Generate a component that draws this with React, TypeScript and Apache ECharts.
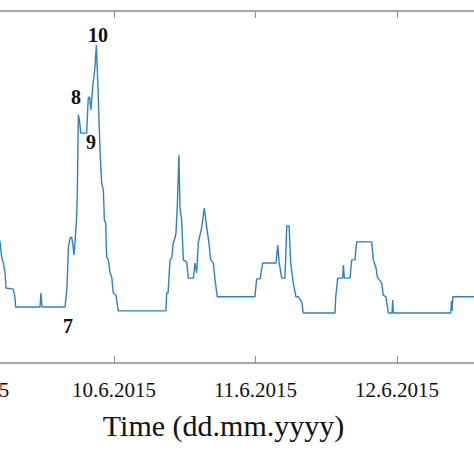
import React, { useEffect, useRef } from "react";
import * as echarts from "echarts";

// time in days since 9.6.2015 00:00
const times = [
  0.159, 0.194, 0.206, 0.218, 0.23, 0.237, 0.288, 0.3, 0.305, 0.477, 0.484, 0.491,
  0.654, 0.668, 0.678, 0.689, 0.7, 0.71, 0.717, 0.724, 0.736, 0.741, 0.748, 0.756,
  0.765, 0.807, 0.818, 0.827, 0.837, 0.849, 0.855, 0.866, 0.875, 0.885, 0.901, 0.913,
  0.925, 0.932, 0.941, 0.948, 0.96, 0.972, 0.984, 0.995, 1.014, 1.03, 1.367, 1.372,
  1.382, 1.396, 1.408, 1.419, 1.431, 1.438, 1.447, 1.459, 1.466, 1.478, 1.49, 1.514,
  1.525, 1.561, 1.572, 1.584, 1.596, 1.62, 1.638, 1.655, 1.671, 1.683, 1.702, 1.714,
  1.73, 1.996, 2.008, 2.032, 2.051, 2.145, 2.157, 2.168, 2.185, 2.208, 2.221, 2.237,
  2.249, 2.267, 2.286, 2.303, 2.327, 2.338, 2.562, 2.567, 2.581, 2.616, 2.621, 2.628,
  2.668, 2.68, 2.703, 2.715, 2.821, 2.833, 2.852, 2.861, 2.892, 2.903, 2.922, 2.939,
  2.965, 2.97, 2.974, 3.38, 3.385, 3.389, 3.395, 3.6,
];
const values = [
  39.2, 34.4, 30.1, 28.4, 25.6, 21.3, 21.0, 18.8, 15.9, 15.9, 19.9, 15.9,
  15.9, 21.6, 33.0, 35.5, 35.8, 33.5, 30.7, 34.1, 41.5, 49.1, 70.5, 69.0,
  65.3, 65.3, 75.3, 75.6, 71.9, 78.1, 80.4, 84.1, 90.3, 80.4, 60.5, 51.1,
  49.1, 40.6, 39.8, 30.1, 29.3, 25.6, 24.4, 19.9, 19.3, 14.8, 14.8, 19.9,
  19.9, 29.3, 29.8, 34.1, 35.5, 36.9, 44.3, 59.1, 44.3, 40.6, 29.3, 28.7,
  24.1, 24.1, 28.4, 25.6, 34.1, 38.6, 44.0, 38.6, 34.1, 29.3, 28.4, 23.6,
  18.8, 18.8, 23.9, 23.9, 28.4, 28.4, 33.5, 28.4, 24.1, 24.1, 38.9, 38.9,
  28.4, 22.7, 18.8, 18.8, 17.3, 14.2, 14.2, 18.8, 24.1, 24.1, 27.8, 24.1,
  24.1, 29.3, 29.3, 34.4, 34.4, 29.3, 27.0, 24.4, 22.7, 19.3, 18.8, 14.2,
  14.2, 17.9, 14.2, 14.2, 17.6, 14.8, 18.8, 18.8,
];
const tickLabels = ["9.6.2015", "10.6.2015", "11.6.2015", "12.6.2015"];
const eventLabels = ["10", "8", "9", "7"];
const xTitle = "Time (dd.mm.yyyy)";

const OFFSET = 60; // chart canvas extends beyond the visible crop on the left
const EXTRA_RIGHT = 20;

export default function App() {
  const ref = useRef<HTMLDivElement>(null);
  useEffect(() => {
    if (!ref.current) return;
    const chart = echarts.init(ref.current, null, { renderer: "svg" });
    const data = times.map((t, i) => [t, values[i]]);
    const axisColor = "#8a8a8a";
    const font = "'Liberation Serif', 'Times New Roman', serif";
    const eventPos = [
      [98, 35],
      [76, 97],
      [91, 142],
      [68, 326],
    ];
    chart.setOption({
      animation: false,
      grid: {
        left: OFFSET - 27.5,
        right: EXTRA_RIGHT - 7.9,
        top: 11,
        bottom: 111,
        containLabel: false,
        outerBoundsMode: "none",
      },
      xAxis: [
        {
          type: "value",
          position: "bottom",
          min: 0,
          max: 3.6,
          interval: 1,
          axisLine: { show: true, lineStyle: { color: axisColor, width: 1.5 } },
          axisTick: { show: true, inside: true, length: 7, lineStyle: { color: axisColor, width: 1 } },
          axisLabel: {
            margin: 16,
            color: "#111",
            fontFamily: font,
            fontSize: 21,
            showMaxLabel: false,
            formatter: (v: number) => tickLabels[Math.round(v)] ?? "",
          },
          splitLine: { show: false },
        },
        {
          type: "value",
          position: "top",
          min: 0,
          max: 3.6,
          interval: 1,
          axisLine: { show: true, lineStyle: { color: axisColor, width: 1.5 } },
          axisTick: { show: true, inside: true, length: 7, lineStyle: { color: axisColor, width: 1 } },
          axisLabel: { show: false },
          splitLine: { show: false },
        },
      ],
      yAxis: {
        type: "value",
        min: 0,
        max: 100,
        axisLine: { show: false },
        axisTick: { show: false },
        axisLabel: { show: false },
        splitLine: { show: false },
      },
      series: [
        {
          type: "line",
          data,
          showSymbol: false,
          symbol: "none",
          lineStyle: { color: "#2f80c2", width: 1.4 },
          clip: true,
        },
      ],
      graphic: [
        ...eventLabels.map((t, i) => ({
          type: "text",
          x: eventPos[i][0] + OFFSET,
          y: eventPos[i][1],
          style: {
            text: t,
            fontFamily: font,
            fontSize: 20,
            fontWeight: "bold",
            fill: "#111",
            align: "center",
            verticalAlign: "middle",
          },
        })),
        {
          type: "text",
          x: 223.5 + OFFSET,
          y: 425,
          style: {
            text: xTitle,
            fontFamily: font,
            fontSize: 30,
            fill: "#111",
            align: "center",
            verticalAlign: "middle",
          },
        },
      ],
    });
    return () => chart.dispose();
  }, []);
  return (
    <div
      style={{
        position: "fixed",
        left: 0,
        top: 0,
        width: 474,
        height: 474,
        overflow: "hidden",
        background: "#fff",
      }}
    >
      <div
        ref={ref}
        style={{
          position: "absolute",
          left: -OFFSET,
          top: 0,
          width: 474 + OFFSET + EXTRA_RIGHT,
          height: 474,
        }}
      />
    </div>
  );
}
